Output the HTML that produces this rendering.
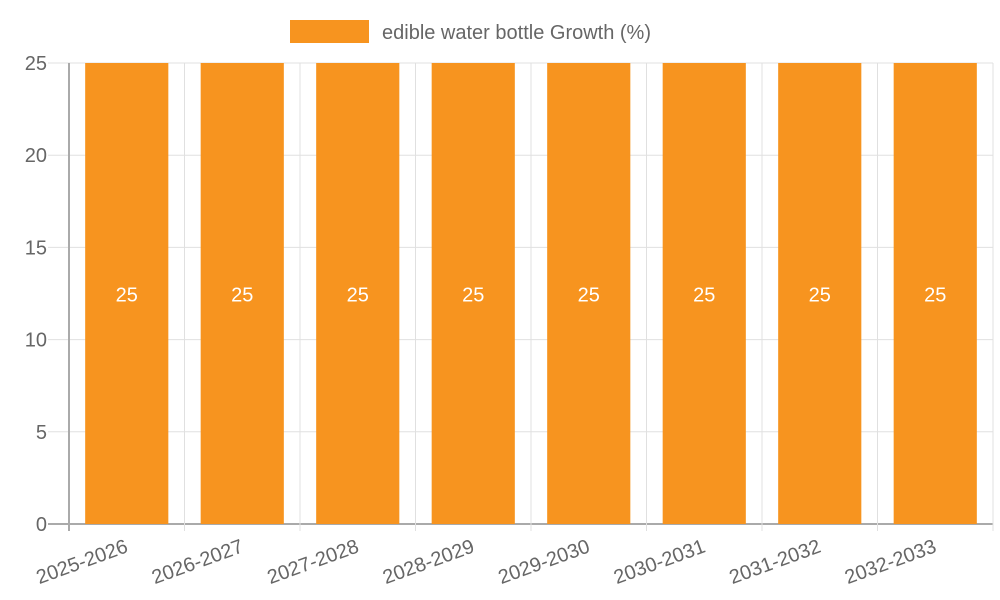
<!DOCTYPE html>
<html><head><meta charset="utf-8"><style>body{margin:0;background:#fff}svg{display:block;font-family:"Liberation Sans",sans-serif}</style></head>
<body>
<svg id="c" width="1000" height="600"></svg>
<script>
const categories=["2025-2026","2026-2027","2027-2028","2028-2029","2029-2030","2030-2031","2031-2032","2032-2033"];
const values=[25,25,25,25,25,25,25,25];
const yTicks=[0,5,10,15,20,25];
const NS="http://www.w3.org/2000/svg";
const svg=document.getElementById('c');
const L=69,R=993,T=63,B=524,yMax=25;
const bw=(R-L)/categories.length;
const y=v=>B-(v/yMax)*(B-T);
const x=i=>L+i*bw;
function mk(t,a,p){const e=document.createElementNS(NS,t);for(const k in a)e.setAttribute(k,a[k]);(p||svg).appendChild(e);return e;}
yTicks.forEach(v=>{
  const g=mk('line',{x1:48,x2:R,y1:y(v),y2:y(v),stroke:v===0?'#aaa':'#e0e0e0','stroke-width':v===0?2:1});
  
  
  const t=mk('text',{x:47,y:y(v)+7,'text-anchor':'end','font-size':20,fill:'#666'});
  t.textContent=v;
  
  
});
for(let i=0;i<=categories.length;i++){
  const g=mk('line',{x1:x(i),x2:x(i),y1:T,y2:B+7,stroke:i===0?'#aaa':'#e0e0e0','stroke-width':i===0?2:1});
  
  
}
categories.forEach((c,i)=>{
  const cx=x(i)+bw/2, w=bw*0.72;
  const r=mk('rect',{x:cx-w/2,y:y(values[i]),width:w,height:B-y(values[i]),fill:'#f7941f'});
  
  
  const v=mk('text',{x:cx,y:(y(values[i])+B)/2+8,'text-anchor':'middle','font-size':20,fill:'#fff'});
  v.textContent=values[i];
  
  
  const t=mk('text',{x:cx,y:552,'text-anchor':'end','font-size':20,fill:'#666',transform:`rotate(-20 ${cx} 545)`});
  t.textContent=c;
  
  
});
const lg=mk('g',{});


mk('rect',{x:290,y:20,width:79,height:23,fill:'#f7941f'},lg);
const lt=mk('text',{x:382,y:39,'font-size':20,fill:'#666'},lg);
lt.textContent="edible water bottle Growth (%)";


</script>
</body></html>
